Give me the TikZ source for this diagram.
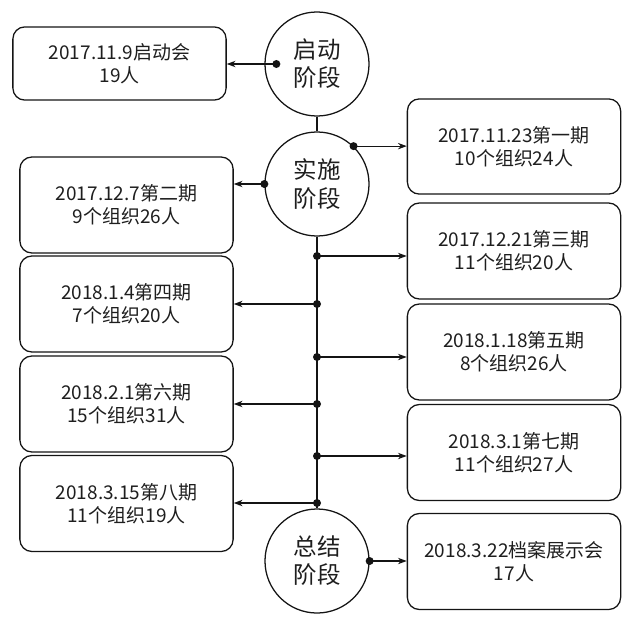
\documentclass[tikz,border=0pt]{standalone}
\usepackage{fontspec}
\setmainfont{Noto Sans CJK SC}
\usetikzlibrary{arrows.meta}
\definecolor{PhaseInk}{RGB}{20,20,20}
\definecolor{PhaseText}{RGB}{30,30,30}

\begin{document}
\begin{tikzpicture}[x=0.025cm,y=-0.025cm,>={Stealth[length=2.2mm,width=1.6mm]}]
    \tikzset{session/.style={draw=PhaseInk,line width=0.9pt,rounded corners=3mm,minimum width=5.33cm,minimum height=2.4cm,align=center,text=PhaseText,font=\fontsize{13.5}{16.4}\selectfont},
      phase/.style={draw=PhaseInk,line width=0.9pt,circle,minimum size=2.6cm,inner sep=0pt,align=center,text=PhaseText,font=\fontsize{16.7}{20}\selectfont},
      joint/.style={circle,fill=PhaseInk,minimum size=2mm,inner sep=0pt},
      link/.style={draw=PhaseInk,line width=0.8pt}}
    \useasboundingbox (0,0) rectangle (636,624);
    % phases
    \node[phase] (c1) at (317,64) {启动\\阶段};
    \node[phase] (c2) at (317,184) {实施\\阶段};
    \node[phase] (c3) at (317,561) {总结\\阶段};
    % sessions
    \node[session,minimum height=1.83cm] (s0) at (119.5,63.5) {2017.11.9启动会\\19人};
    \node[session,minimum height=2.38cm] (s1) at (514,146.5) {2017.11.23第一期\\10个组织24人};
    \node[session] (s2) at (126.5,205) {2017.12.7第二期\\9个组织26人};
    \node[session] (s3) at (514,251) {2017.12.21第三期\\11个组织20人};
    \node[session] (s4) at (126.5,304) {2018.1.4第四期\\7个组织20人};
    \node[session] (s5) at (514,352) {2018.1.18第五期\\8个组织26人};
    \node[session] (s6) at (126.5,404) {2018.2.1第六期\\15个组织31人};
    \node[session] (s7) at (514,452.5) {2018.3.1第七期\\11个组织27人};
    \node[session] (s8) at (126.5,503.5) {2018.3.15第八期\\11个组织19人};
    \node[session] (s9) at (514,561.5) {2018.3.22档案展示会\\17人};
    % trunk
    \draw[link] (c1) -- (c2);
    \draw[link] (c2) -- (c3);
    % joints
    \node[joint] (j0) at ([xshift=3mm]c1.west) {};
    \node[joint] (j1) at (c2.46) {};
    \node[joint] (j2) at (c2.west) {};
    \node[joint] (j3) at (317,256) {};
    \node[joint] (j4) at (317,304) {};
    \node[joint] (j5) at (317,357) {};
    \node[joint] (j6) at (317,404) {};
    \node[joint] (j7) at (317,456) {};
    \node[joint] (j8) at (317,503) {};
    \node[joint] (j9) at (c3.east) {};
    % branches
    \draw[link,->] (j0.center) -- (j0.center -| s0.east);
    \draw[link,->] (j1.center) -- (j1.center -| s1.west);
    \draw[link,->] (j2.center) -- (j2.center -| s2.east);
    \draw[link,->] (j3.center) -- (j3.center -| s3.west);
    \draw[link,->] (j4.center) -- (j4.center -| s4.east);
    \draw[link,->] (j5.center) -- (j5.center -| s5.west);
    \draw[link,->] (j6.center) -- (j6.center -| s6.east);
    \draw[link,->] (j7.center) -- (j7.center -| s7.west);
    \draw[link,->] (j8.center) -- (j8.center -| s8.east);
    \draw[link,->] (j9.center) -- (j9.center -| s9.west);
\end{tikzpicture}
\end{document}
